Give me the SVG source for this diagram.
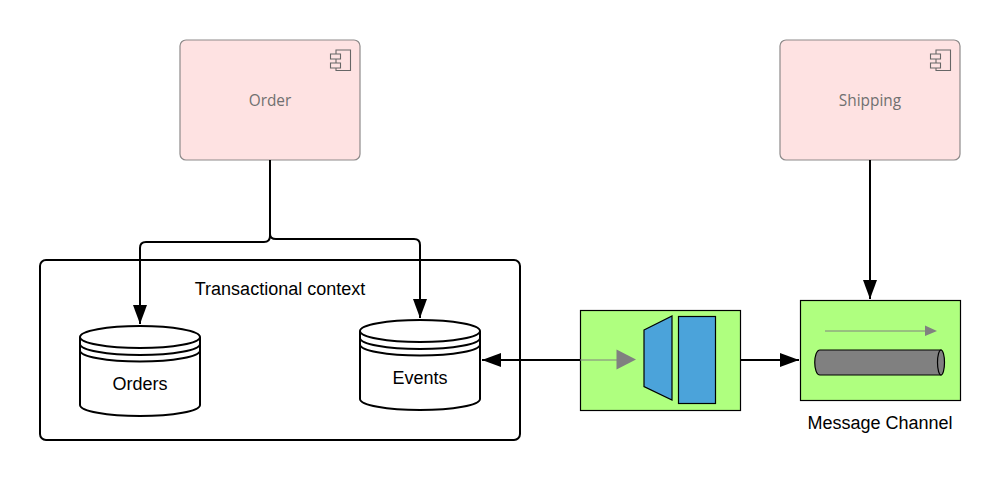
<svg xmlns="http://www.w3.org/2000/svg" width="1000" height="485" viewBox="0 0 1000 485">
<style>
text{font-family:"Liberation Sans",Arial,sans-serif;font-size:18px;fill:#000;text-anchor:middle}
.comp{fill:#fee2e2;stroke:#8e8a8a;stroke-width:1.2}
.icon{fill:none;stroke:#666;stroke-width:1.1}
text.ct{font-family:"Open Sans","Noto Sans",sans-serif;font-size:15.400px;fill:#707070}
.db{fill:#fff;stroke:#000;stroke-width:2}
.dbl{fill:none;stroke:#000;stroke-width:2}
.green{fill:#afff7f;stroke:#000;stroke-width:1.2}
.blue{fill:#4ba3da;stroke:#000;stroke-width:1.2}
.conn{fill:none;stroke:#000;stroke-width:2}
.gl{stroke:#808080;stroke-width:1;fill:none}
.gh{fill:#808080;stroke:none}
</style>
<defs>
<marker id="arr" markerUnits="userSpaceOnUse" markerWidth="22" markerHeight="18" refX="19" refY="8" orient="auto"><path d="M0 1L19 8L0 15Z" fill="#000"/></marker>
</defs>
<g id="order">
<rect class="comp" x="180" y="40" width="180" height="120" rx="6"/>
<path class="icon" d="M336 54V50H350.500V70.500H336V68M336 63V59M330.500 54H340.500V59H330.500ZM330.500 63H340.500V68H330.500Z"/>
<text class="ct" x="270" y="105.500">Order</text>
</g>
<g id="shipping">
<rect class="comp" x="780" y="40" width="180" height="120" rx="6"/>
<path class="icon" d="M936 54V50H950.500V70.500H936V68M936 63V59M930.500 54H940.500V59H930.500ZM930.500 63H940.500V68H930.500Z"/>
<text class="ct" x="870" y="105.500">Shipping</text>
</g>
<g id="transactional-context">
<rect x="40" y="260" width="480" height="180" rx="6" fill="#fff" stroke="#000" stroke-width="2"/>
<text x="280" y="294.500">Transactional context</text>
</g>
<g id="orders">
<path class="db" d="M80 337A60 11 0 0 1 200 337V405A60 11 0 0 1 80 405Z"/>
<path class="dbl" d="M80 337A60 11 0 0 0 200 337M80 344A60 11 0 0 0 200 344M80 350.500A60 11 0 0 0 200 350.500"/>
<text x="140" y="389.500">Orders</text>
</g>
<g id="events">
<path class="db" d="M360 331A60 11 0 0 1 480 331V399A60 11 0 0 1 360 399Z"/>
<path class="dbl" d="M360 331A60 11 0 0 0 480 331M360 338A60 11 0 0 0 480 338M360 344.500A60 11 0 0 0 480 344.500"/>
<text x="420" y="383.500">Events</text>
</g>
<g id="connectors">
<path class="conn" marker-end="url(#arr)" d="M270 160V236Q270 242 264 242H146Q140 242 140 248V324"/>
<path class="conn" marker-end="url(#arr)" d="M270 160V234Q270 239 276 239H414Q420 239 420 245V318"/>
<path class="conn" marker-end="url(#arr)" d="M870 160V299"/>
<path class="conn" marker-end="url(#arr)" d="M580 360H482"/>
<path class="conn" marker-end="url(#arr)" d="M740 360H799"/>
</g>
<g id="translator">
<rect class="green" x="580.500" y="310.500" width="160" height="100"/>
<path class="gl" d="M580 360H620"/>
<path class="gh" d="M616.500 349.500L636 359.500L616.500 369.500Z"/>
<path class="blue" d="M644 330L672 316V400L644 386.500Z"/>
<rect class="blue" x="678.500" y="316.500" width="37" height="87"/>
</g>
<g id="message-channel">
<rect class="green" x="800.500" y="300.500" width="160" height="100"/>
<path class="gl" d="M825 331H928"/>
<path class="gh" d="M925 325.500L937 331L925 336Z"/>
<path d="M820 350H941V375H820C813 375 813 350 820 350Z" fill="#808080" stroke="#000" stroke-width="1.200"/>
<ellipse cx="941" cy="362.500" rx="3.500" ry="12.500" fill="#808080" stroke="#000" stroke-width="1.200"/>
<text x="880" y="428.500">Message Channel</text>
</g>
</svg>
